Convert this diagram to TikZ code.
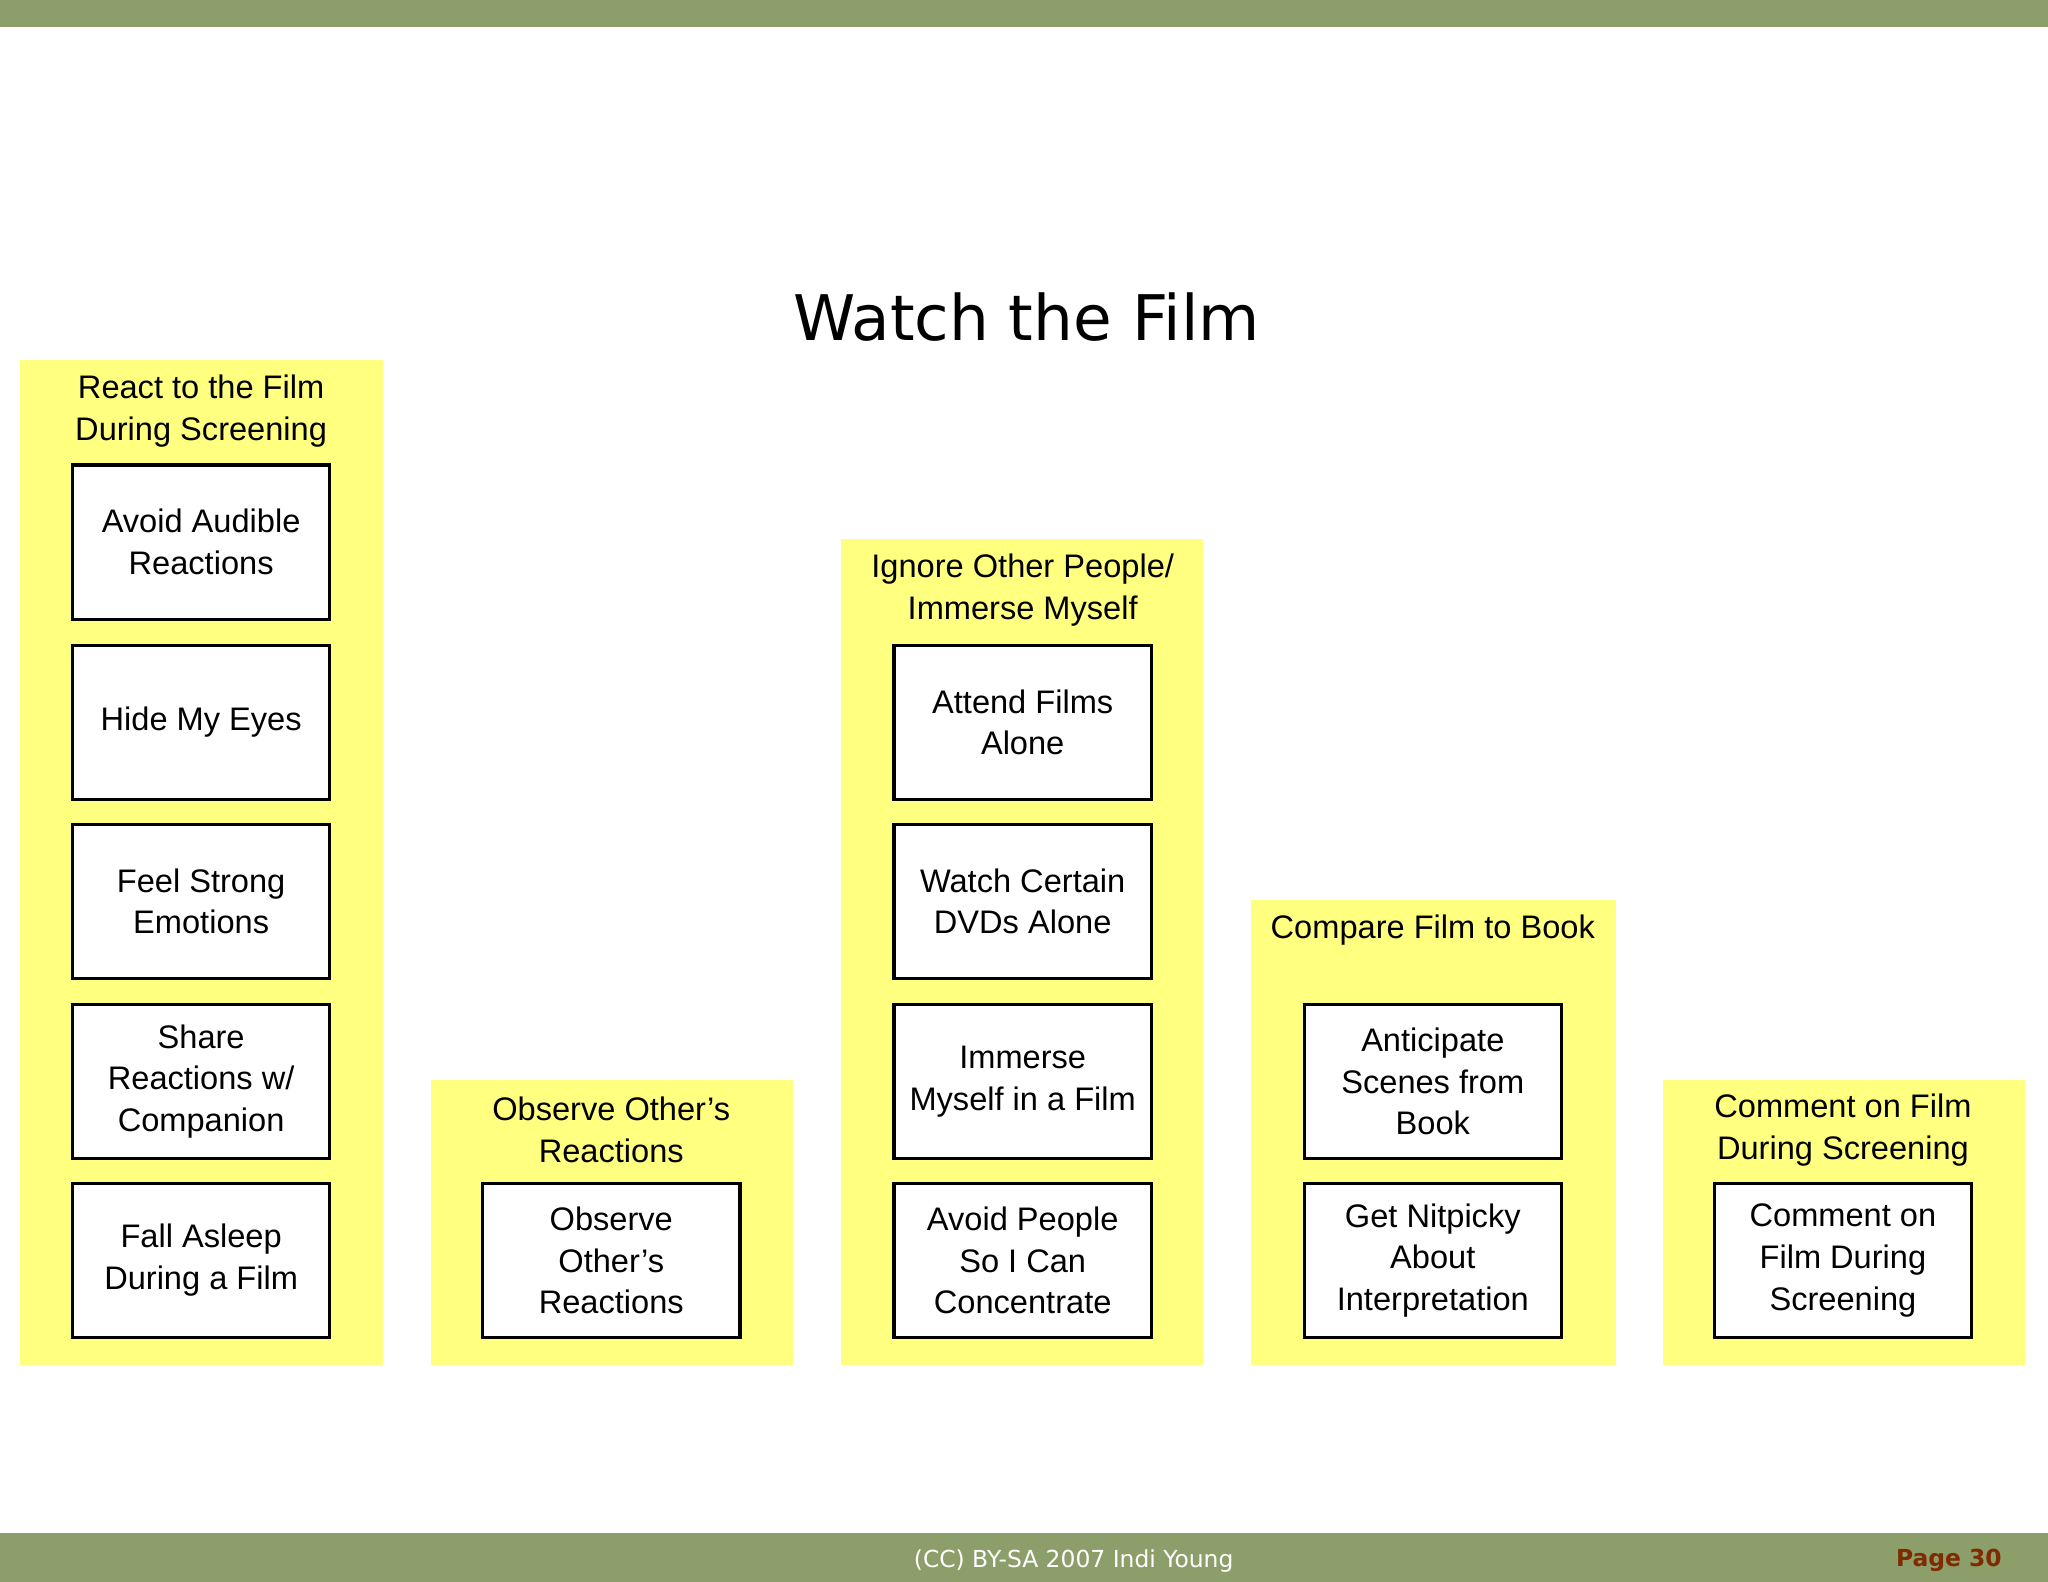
\documentclass[tikz,border=0pt]{standalone}
\usepackage{fontspec}
\setmainfont{Liberation Sans}
\newfontfamily\verd{DejaVu Sans}
\definecolor{barg}{HTML}{8C9F6A}
\definecolor{yel}{HTML}{FFFF80}
\definecolor{pg}{HTML}{7F2A00}
\begin{document}
\begin{tikzpicture}[x=0.1mm,y=-0.1mm,
  grp/.style={fill=yel,draw=none},
  bx/.style={draw=black,line width=0.7pt,fill=white,minimum width=197*0.1mm,minimum height=118*0.1mm,align=center,font=\fontsize{7.1}{9.1}\selectfont,inner sep=0pt},
  hd/.style={align=center,font=\fontsize{7.1}{9.1}\selectfont,inner sep=0pt}]
\useasboundingbox (0,0) rectangle (1568,1211);
\fill[barg] (0,0) rectangle (1568,21);
\fill[barg] (0,1174) rectangle (1568,1211);
\node[font=\verd\fontsize{13.7}{16}\selectfont] (title) at (786,243) {Watch the Film};
\node[font=\verd\fontsize{5.1}{6}\selectfont,text=white] (foot) at (822,1195) {(CC) BY-SA 2007 Indi Young};
\node[font=\verd\bfseries\fontsize{5.1}{6}\selectfont,text=pg,anchor=east] (page) at (1545,1195) {Page 30};
\fill[grp] (15,276) rectangle (293,1045);
\fill[grp] (330,827) rectangle (607,1045);
\fill[grp] (644,413) rectangle (921,1045);
\fill[grp] (958,689) rectangle (1237,1045);
\fill[grp] (1273,827) rectangle (1550,1045);
\node[hd] (h1) at (154,315) {React to the Film\\During Screening};
\node[hd] (h2) at (468,865) {Observe Other’s\\Reactions};
\node[hd] (h3) at (783,452) {Ignore Other People/\\Immerse Myself};
\node[hd] (h4) at (1097,712) {Compare Film to Book};
\node[hd] (h5) at (1411,865) {Comment on Film\\During Screening};
\node[bx] (a1) at (154,415) {Avoid Audible\\Reactions};
\node[bx] (a2) at (154,553) {Hide My Eyes};
\node[bx] (a3) at (154,690) {Feel Strong\\Emotions};
\node[bx] (a4) at (154,828) {Share\\Reactions w/\\Companion};
\node[bx] (a5) at (154,965) {Fall Asleep\\During a Film};
\node[bx] (b1) at (468,965) {Observe\\Other’s\\Reactions};
\node[bx] (c1) at (783,553) {Attend Films\\Alone};
\node[bx] (c2) at (783,690) {Watch Certain\\DVDs Alone};
\node[bx] (c3) at (783,828) {Immerse\\Myself in a Film};
\node[bx] (c4) at (783,965) {Avoid People\\So I Can\\Concentrate};
\node[bx] (d1) at (1097,828) {Anticipate\\Scenes from\\Book};
\node[bx] (d2) at (1097,965) {Get Nitpicky\\About\\Interpretation};
\node[bx] (e1) at (1411,965) {Comment on\\Film During\\Screening};
\end{tikzpicture}
\end{document}
